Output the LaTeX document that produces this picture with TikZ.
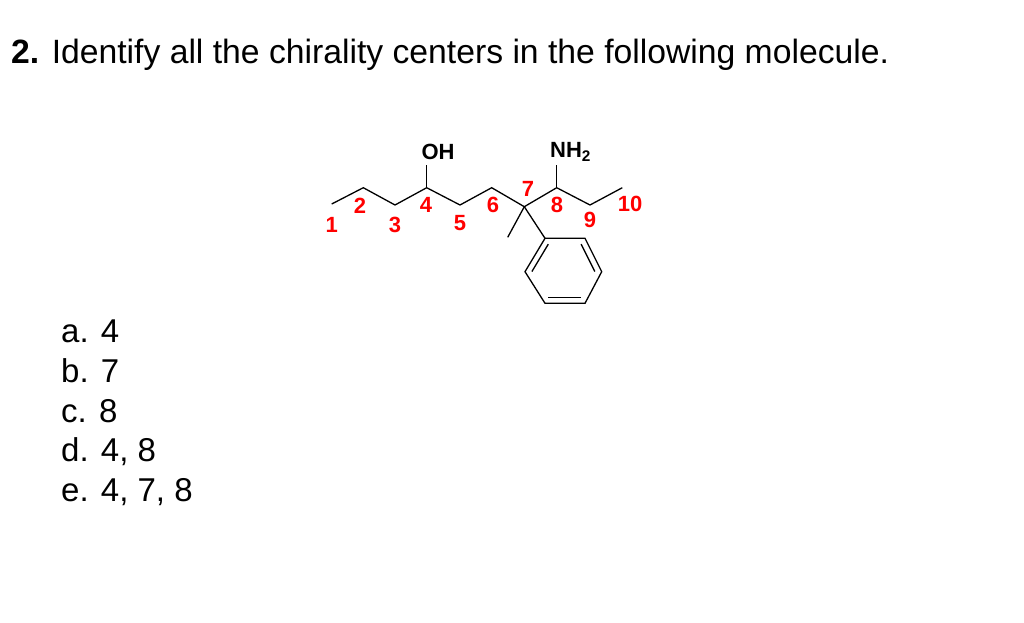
\documentclass[tikz,border=0pt]{standalone}
\usepackage{fontspec}
\setmainfont{Liberation Sans}
\usetikzlibrary{calc}
\begin{document}
\begin{tikzpicture}[x=1pt,y=-1pt,
  bond/.style={line width=1.3pt,line join=miter},
  num/.style={text=red,font=\fontsize{22}{22}\selectfont\bfseries,inner sep=0pt},
  atom/.style={font=\fontsize{22}{22}\selectfont\bfseries,inner sep=0pt},
  big/.style={font=\fontsize{33}{33}\selectfont,anchor=west,inner sep=0pt}]
\useasboundingbox (0,0) rectangle (1024,622);
\node[big,font=\fontsize{33.7}{34}\selectfont] (t) at (11,55) {\textbf{2.} Identify all the chirality centers in the following molecule.};
\foreach \n/\t/\y in {a/a. 4/331, b/b. 7/371, c/c. 8/411, d/{d. 4, 8}/452, e/{e. 4, 7, 8}/492}
  \node[big] (ans\n) at (61,\y) {\t};
\coordinate (c1) at (331.7,204);
\coordinate (c2) at (363.3,187.7);
\coordinate (c3) at (395,205);
\coordinate (c4) at (426.7,187.7);
\coordinate (c5) at (460,205);
\coordinate (c6) at (491.7,187.7);
\coordinate (c7) at (524.3,206.7);
\coordinate (c8) at (556.7,187.7);
\coordinate (c9) at (590,205);
\coordinate (c10) at (622.3,187.7);
\coordinate (me) at (507.7,237.3);
\coordinate (o) at (426.7,165);
\coordinate (n) at (556.7,165);
\coordinate (r1) at (545,238.3);
\coordinate (r2) at (585,238.3);
\coordinate (r3) at (601.7,271.7);
\coordinate (r4) at (585,303.3);
\coordinate (r5) at (545,303.3);
\coordinate (r6) at (525,271.7);
\draw[bond] (c1)--(c2)--(c3)--(c4)--(c5)--(c6)--(c7)--(c8)--(c9)--(c10);
\draw[bond] (c4)--(o); \draw[bond] (c8)--(n);
\draw[bond] (c7)--(me); \draw[bond] (c7)--(r1);
\draw[bond] (r1)--(r2)--(r3)--(r4)--(r5)--(r6)--cycle;
\coordinate (cen) at (563.3,270.8);
\draw[bond] ($(r2)!0.18!(cen)$) -- ($(r3)!0.18!(cen)$);
\draw[bond] ($(r4)!0.18!(cen)$) -- ($(r5)!0.18!(cen)$);
\draw[bond] ($(r6)!0.18!(cen)$) -- ($(r1)!0.18!(cen)$);
\node[atom] (oh) at (438,152) {OH};
\node[atom,anchor=west] (nh) at (550,152) {NH\textsubscript{2}};
\foreach \k/\x/\y in {1/331.7/225,2/360/206,3/395/225,4/426/205,5/460/223,6/493/205,7/528/189,8/557/205,9/590/220,10/630/204}
  \node[num] (l\k) at (\x,\y) {\k};
\end{tikzpicture}
\end{document}
